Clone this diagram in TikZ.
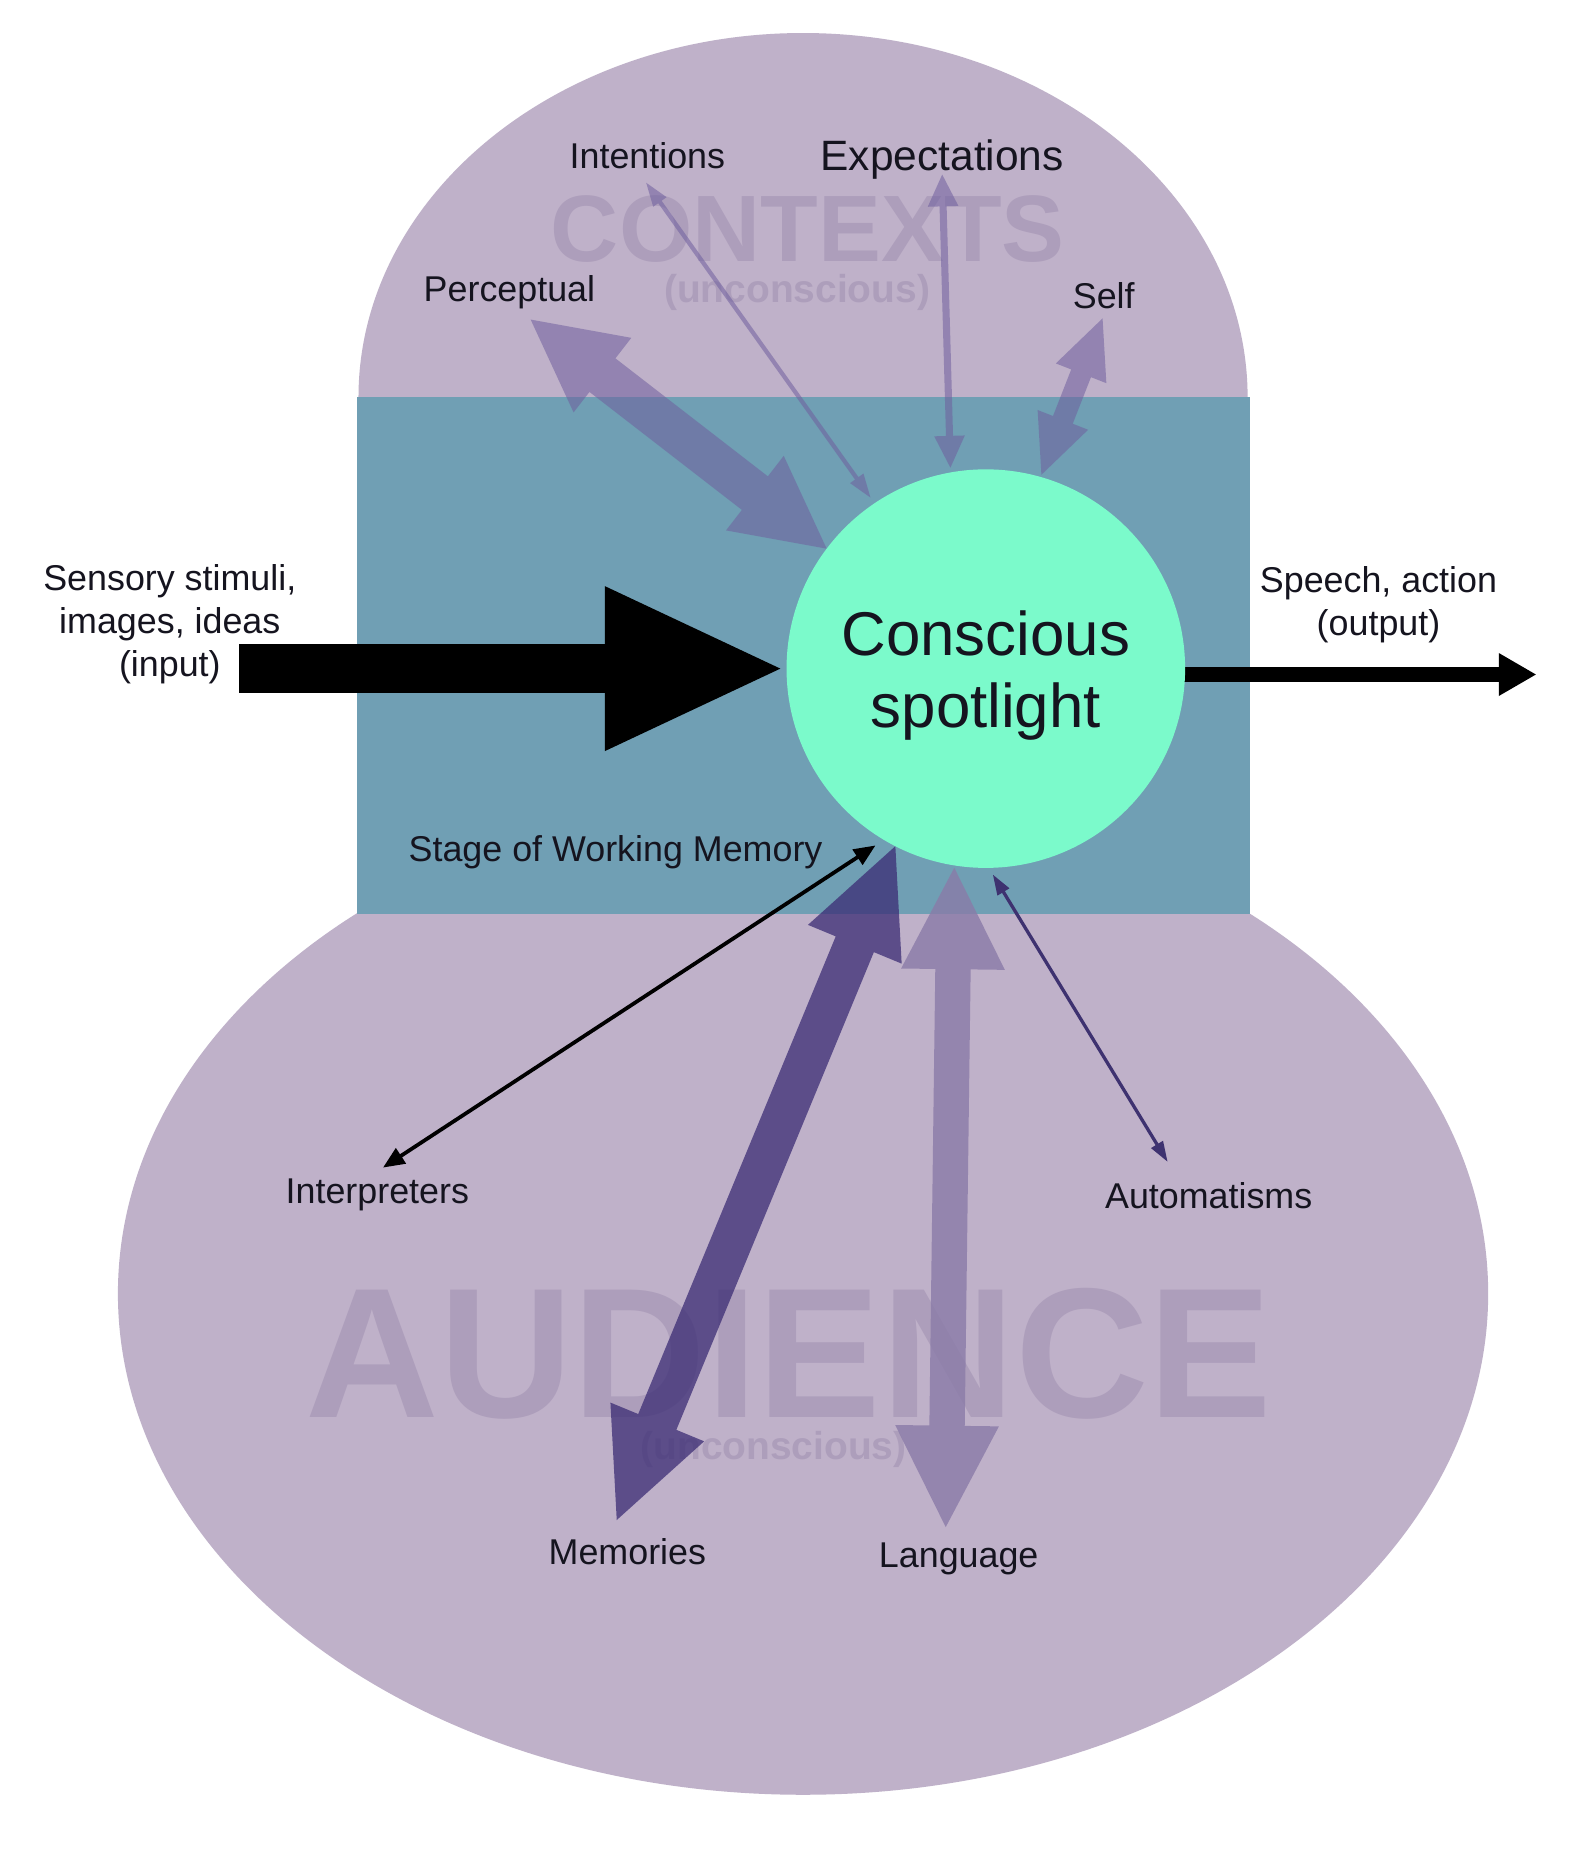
\documentclass[tikz,border=0pt]{standalone}
\usepackage{fontspec}
\setmainfont{Liberation Sans}
\usetikzlibrary{calc,arrows.meta}
\pgfdeclarelayer{back}
\pgfdeclarelayer{mid}
\pgfsetlayers{back,mid,main}
\definecolor{lav}{HTML}{BFB1C9}
\definecolor{stage}{HTML}{709FB4}
\definecolor{mint}{HTML}{7BFACB}
\definecolor{wmark}{HTML}{AD9EBB}
\definecolor{ctxarrow}{HTML}{6F5F9E}
\definecolor{langarrow}{HTML}{8A7BA8}
\definecolor{memarrow}{HTML}{3B2C74}
\definecolor{autarrow}{HTML}{3E3270}
\definecolor{labtext}{HTML}{15141F}
% name, A, B, half shaft, half head, head length, style
\newcommand\fatarrow[7]{%
  \coordinate (#1-a) at ($(#2)!#6!(#3)$);
  \coordinate (#1-b) at ($(#3)!#6!(#2)$);
  \fill[#7] (#2) -- ($(#1-a)!#5!90:(#3)$) -- ($(#1-a)!#4!90:(#3)$)
    -- ($(#1-b)!#4!-90:(#2)$) -- ($(#1-b)!#5!-90:(#2)$) -- (#3)
    -- ($(#1-b)!#5!90:(#2)$) -- ($(#1-b)!#4!90:(#2)$)
    -- ($(#1-a)!#4!-90:(#3)$) -- ($(#1-a)!#5!-90:(#3)$) -- cycle;}
\tikzset{
  ctxfill/.style={fill=ctxarrow, fill opacity=0.55},
  langfill/.style={fill=langarrow, fill opacity=0.8},
  memfill/.style={fill=memarrow, fill opacity=0.75},
  wm/.style={text=wmark, inner sep=0pt},
  lab/.style={font=\fontsize{15.2}{18.25}\selectfont, text=labtext, inner sep=0pt, anchor=base, yshift=-5.44pt},
  labblock/.style={font=\fontsize{15.2}{18.25}\selectfont, text=labtext, inner sep=0pt, align=center, anchor=center},
  spotstyle/.style={circle, fill=mint, minimum size=169pt, inner sep=0pt, outer sep=0pt, align=center,
    text=labtext, font=\fontsize{26.2}{30.5}\selectfont}
}
\begin{document}
\begin{tikzpicture}[x=0.5pt,y=-0.5pt]
\useasboundingbox (0,0) rectangle (1344,1568);
\begin{pgfonlayer}{back}
  \fill[white] (0,0) rectangle (1344,1568);
  \fill[lav] (681,337) ellipse [x radius=188.5pt, y radius=154.5pt];
  \fill[lav] (681,1097) ellipse [x radius=290.5pt, y radius=212.5pt];
  \fill[stage] (303,337) rectangle (1060,775);
  \node[wm, font=\bfseries\fontsize{40}{40}\selectfont, anchor=base, yshift=-14.3pt] (contexts) at (685,193) {CONTEXTS};
  \node[wm, font=\bfseries\fontsize{16.5}{16.5}\selectfont] (ctxunc) at (676,248) {(unconscious)};
  \node[wm, font=\bfseries\fontsize{78.5}{78.5}\selectfont, anchor=base, yshift=-27.5pt] (audience) at (669,1147) {AUDIENCE};
  \node[wm, font=\bfseries\fontsize{16.5}{16.5}\selectfont] (audunc) at (656,1229) {(unconscious)};
\end{pgfonlayer}

\node[spotstyle] (spot) at (836,567) {\rule{0pt}{25pt}Conscious\\spotlight};

% free ends
\coordinate (perc-end) at (450,271);
\coordinate (int-end) at (548,155);
\coordinate (exp-end) at (799,148);
\coordinate (self-end) at (935,270);
\coordinate (interp-end) at (325,990);
\coordinate (mem-end) at (523,1289);
\coordinate (lang-end) at (802,1295);
\coordinate (aut-end) at (990,985);
\coordinate (in-tail) at (203,567);
\coordinate (out-tip) at (1303,572);
% circle-side ends
\coordinate (int-in) at ($(spot.124)!-3pt!(spot.center)$);
\coordinate (exp-in) at ($(spot.100)!-2pt!(spot.center)$);
\coordinate (self-in) at ($(spot.74)!-1pt!(spot.center)$);
\coordinate (interp-in) at ($(spot.238)!-4pt!(spot.center)$);
\coordinate (lang-in) at ($(spot.261)!-1pt!(spot.center)$);
\coordinate (aut-in) at ($(spot.272)!-3pt!(spot.center)$);

\begin{pgfonlayer}{mid}
  \draw[black, line width=21pt, -{Triangle[length=77pt, width=63.5pt]}] (in-tail) -- (spot.west);
  \draw[black, line width=6pt, -{Triangle[length=16pt, width=17pt]}] (spot.center |- out-tip) -- (out-tip);
  \fatarrow{perc}{perc-end}{spot.143}{9pt}{20pt}{38.5pt}{ctxfill}
  \fatarrow{int}{int-end}{int-in}{0.9pt}{3.5pt}{10pt}{ctxfill}
  \fatarrow{exp}{exp-end}{exp-in}{1.5pt}{6.5pt}{13.5pt}{ctxfill}
  \fatarrow{self}{self-end}{self-in}{4.5pt}{11.5pt}{25pt}{ctxfill}
  \fatarrow{mem}{spot.243}{mem-end}{8.75pt}{21.5pt}{45pt}{memfill}
  \fatarrow{lang}{lang-in}{lang-end}{7.5pt}{22pt}{43pt}{langfill}
  \fatarrow{interp}{interp-in}{interp-end}{0.8pt}{4pt}{9pt}{fill=black}
  \fatarrow{aut}{aut-in}{aut-end}{0.7pt}{3pt}{8.5pt}{fill=autarrow}
\end{pgfonlayer}

% labels
\node[lab] (intentions) at (549,132) {Intentions};
\node[lab, font=\fontsize{18}{21}\selectfont, yshift=-1pt] (expectations) at (799,132) {Expectations};
\node[lab] (perceptual) at (432,245) {Perceptual};
\node[lab] (self) at (936,251) {Self};
\node[labblock] (input) at (144,529) {Sensory stimuli,\\images, ideas\\(input)};
\node[labblock] (output) at (1169,513) {Speech, action\\(output)};
\node[lab] (stage) at (522,720) {Stage of Working Memory};
\node[lab] (interpreters) at (320,1010) {Interpreters};
\node[lab] (automatisms) at (1025,1014) {Automatisms};
\node[lab] (memories) at (532,1316) {Memories};
\node[lab] (language) at (813,1318) {Language};
\end{tikzpicture}
\end{document}
